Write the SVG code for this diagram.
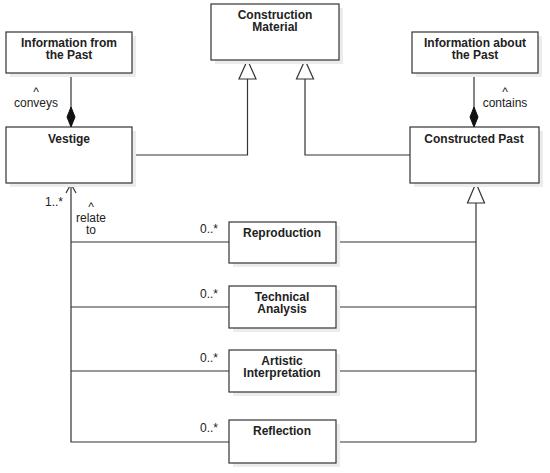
<svg xmlns="http://www.w3.org/2000/svg" width="550" height="473" viewBox="0 0 550 473">
<style>
.box{fill:#fff;stroke:#333;stroke-width:1.2}
.sh{fill:#ececec}
.t{font-family:"Liberation Sans",Arial,sans-serif;font-size:12px;font-weight:bold;fill:#222;text-anchor:middle}
.l{font-family:"Liberation Sans",Arial,sans-serif;font-size:12px;fill:#222;text-anchor:middle}
.c{fill:none;stroke:#333;stroke-width:1.2}
.tri{fill:#fff;stroke:#333;stroke-width:1.2}
.dia{fill:#111;stroke:#111;stroke-width:1}
</style>
<rect width="550" height="473" fill="#fff"/>
<g id="connectors">
<path class="c" d="M71,73 V127"/>
<path class="dia" d="M71,107 L75,117 L71,127 L67,117 Z"/>
<path class="c" d="M474,73 V127"/>
<path class="dia" d="M474,107 L478,117 L474,127 L470,117 Z"/>
<path class="c" d="M132,155 H247.5 V79"/>
<path class="tri" d="M247.5,60 L256,79 L239,79 Z"/>
<path class="c" d="M410,155 H305 V79"/>
<path class="tri" d="M305,60 L313.5,79 L296.5,79 Z"/>
<path class="c" d="M476,203 V442"/>
<path class="tri" d="M476,183 L484.5,203 L467.5,203 Z"/>
<path class="c" d="M336,242 H476 M336,307 H476 M336,371 H476 M336,442 H476"/>
<path class="c" d="M71,184 V442 H229 M71,242 H229 M71,307 H229 M71,371 H229"/>
<path class="c" d="M66,193 L71,184 L76,193"/>
<text class="l" x="36" y="96">^</text>
<text class="l" x="36" y="107">conveys</text>
<text class="l" x="505" y="96">^</text>
<text class="l" x="505" y="107">contains</text>
<text class="l" x="54" y="206">1..*</text>
<text class="l" x="91" y="211">^</text>
<text class="l" x="91" y="222">relate</text>
<text class="l" x="91" y="234">to</text>
<text class="l" x="209" y="233">0..*</text>
<text class="l" x="209" y="298">0..*</text>
<text class="l" x="209" y="362">0..*</text>
<text class="l" x="209" y="432">0..*</text>
</g>
<g id="info-from">
<rect class="sh" x="10" y="36" width="126" height="41"/>
<rect class="box" x="6" y="32" width="126" height="41"/>
<text class="t" x="69" y="47">Information from</text>
<text class="t" x="69" y="59">the Past</text>
</g>
<g id="construction-material">
<rect class="sh" x="215" y="8" width="128" height="56"/>
<rect class="box" x="211" y="4" width="128" height="56"/>
<text class="t" x="275" y="19">Construction</text>
<text class="t" x="275" y="31">Material</text>
</g>
<g id="info-about">
<rect class="sh" x="416" y="36" width="126" height="41"/>
<rect class="box" x="412" y="32" width="126" height="41"/>
<text class="t" x="475" y="47">Information about</text>
<text class="t" x="475" y="59">the Past</text>
</g>
<g id="vestige">
<rect class="sh" x="10" y="131" width="126" height="56"/>
<rect class="box" x="6" y="127" width="126" height="56"/>
<text class="t" x="69" y="143">Vestige</text>
</g>
<g id="constructed-past">
<rect class="sh" x="414" y="131" width="129" height="56"/>
<rect class="box" x="410" y="127" width="129" height="56"/>
<text class="t" x="474" y="143">Constructed Past</text>
</g>
<g id="reproduction">
<rect class="sh" x="233" y="226" width="107" height="41"/>
<rect class="box" x="229" y="222" width="107" height="41"/>
<text class="t" x="282" y="237">Reproduction</text>
</g>
<g id="technical-analysis">
<rect class="sh" x="233" y="290" width="107" height="42"/>
<rect class="box" x="229" y="286" width="107" height="42"/>
<text class="t" x="282" y="301">Technical</text>
<text class="t" x="282" y="313">Analysis</text>
</g>
<g id="artistic-interpretation">
<rect class="sh" x="233" y="354" width="107" height="42"/>
<rect class="box" x="229" y="350" width="107" height="42"/>
<text class="t" x="282" y="365">Artistic</text>
<text class="t" x="282" y="377">Interpretation</text>
</g>
<g id="reflection">
<rect class="sh" x="233" y="424" width="107" height="43"/>
<rect class="box" x="229" y="420" width="107" height="43"/>
<text class="t" x="282" y="435">Reflection</text>
</g>
</svg>
